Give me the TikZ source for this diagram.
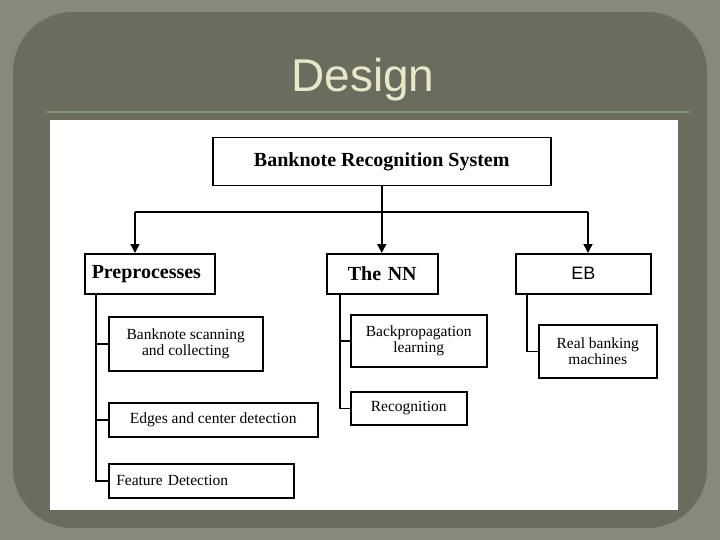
\documentclass[tikz,border=0pt]{standalone}
\usepackage{fontspec}
\setmainfont{Liberation Serif}
\newfontfamily\arialfont{Liberation Sans}
\usetikzlibrary{arrows.meta}
\definecolor{slideout}{HTML}{868A7C}
\definecolor{slidein}{HTML}{6B6C5E}
\definecolor{ruleline}{HTML}{7D8F74}
\definecolor{titlecol}{HTML}{E8E8C8}
\tikzset{
  box/.style={draw, line width=1.5pt, anchor=north west, inner sep=0pt, align=center},
  head/.style={box, font=\bfseries\fontsize{20}{22}\selectfont},
  leaf/.style={box, font=\fontsize{15.5}{16}\selectfont},
  link/.style={line width=1.5pt},
  arr/.style={link, -{Triangle[length=9pt,width=9pt]}}
}
\begin{document}
\begin{tikzpicture}[x=1pt,y=-1pt]
  \useasboundingbox (0,0) rectangle (720,540);
  \fill[slideout] (0,0) rectangle (720,540);
  \fill[slidein, rounded corners=60pt] (13,12) rectangle (707,528);
  \draw[ruleline, line width=1.2pt] (46,112) -- (690,112);
  \node[text=titlecol, font=\arialfont\fontsize{46}{48}\selectfont] (title) at (363,80) {Design};
  \fill[white] (50,120) rectangle (678,510);

  % top level
  \node[head, minimum width=338pt, minimum height=48pt] (sys) at (212,137) {Banknote Recognition System};
  \node[head, minimum width=130pt, minimum height=40pt, text width=116pt, align=left] (pre) at (84,253) {Preprocesses};
  \node[head, minimum width=111pt, minimum height=40pt, text width=101pt, align=center] (nn) at (326,253) {The NN};
  \node[box, font=\arialfont\fontsize{18}{20}\selectfont, minimum width=135pt, minimum height=40pt] (eb) at (515,253) {EB};

  \coordinate (busl) at (135,212);
  \coordinate (busr) at (588,212);
  \draw[link] (busl) -- (busr);
  \draw[arr] (sys.south) -- (nn.north -| sys.south);
  \draw[arr] (busl) -- (pre.north -| busl);
  \draw[arr] (busr) -- (eb.north -| busr);

  % children
  \node[leaf, minimum width=154pt, minimum height=54pt] (scan) at (108,316) {Banknote scanning\\and collecting};
  \node[leaf, minimum width=209pt, minimum height=34pt] (edge) at (108,402) {Edges and center detection};
  \node[leaf, minimum width=185pt, minimum height=34pt, text width=170pt, align=left] (feat) at (108,463) {Feature Detection};
  \node[leaf, minimum width=136pt, minimum height=52pt] (bp) at (350,314) {Backpropagation\\learning};
  \node[leaf, minimum width=116pt, minimum height=33pt] (rec) at (350,391) {Recognition};
  \node[leaf, minimum width=118pt, minimum height=53pt] (real) at (538,324) {Real banking\\machines};

  \coordinate (pv) at (96,293);
  \coordinate (nv) at (340,293);
  \coordinate (ev) at (527,293);
  \draw[link] (pv) -- (pv |- feat.west) -- (feat.west);
  \draw[link] (pv |- scan.west) -- (scan.west);
  \draw[link] (pv |- edge.west) -- (edge.west);
  \draw[link] (nv) -- (nv |- rec.west) -- (rec.west);
  \draw[link] (nv |- bp.west) -- (bp.west);
  \draw[link] (ev) -- (ev |- real.west) -- (real.west);
\end{tikzpicture}
\end{document}
